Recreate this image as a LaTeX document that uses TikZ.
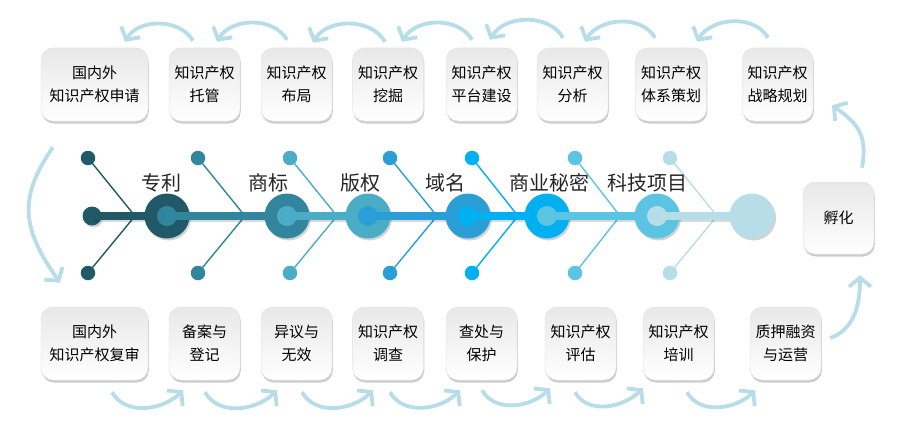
\documentclass[tikz,border=0pt]{standalone}
\usepackage{fontspec}
\setmainfont{Noto Sans CJK SC}
\usetikzlibrary{arrows.meta,shadows,calc}
\definecolor{cA}{HTML}{215968}
\definecolor{cB}{HTML}{31859C}
\definecolor{cC}{HTML}{4BACC6}
\definecolor{cD}{HTML}{2A9ED6}
\definecolor{cE}{HTML}{00B0F0}
\definecolor{cF}{HTML}{5BC4E2}
\definecolor{cG}{HTML}{B7DDE8}
\definecolor{arrc}{HTML}{B7DDE8}
\begin{document}
\begin{tikzpicture}[x=1pt,y=1pt,
  box/.style={rounded corners=12pt, top color=black!9, bottom color=white, draw=black!10, line width=0.5pt,
    drop shadow={shadow xshift=0.8pt, shadow yshift=-2.5pt, opacity=0.4},
    minimum height=73pt, minimum width=71pt, align=center, inner sep=2pt,
    font=\fontsize{15pt}{23pt}\selectfont},
  arr/.style={draw=arrc, line width=3.8pt, -{Straight Barb[length=9pt,width=22pt]}},
  bigc/.style={circle, minimum size=45pt, inner sep=0pt,
    drop shadow={shadow xshift=1.5pt, shadow yshift=-2pt, opacity=0.35}},
  innc/.style={circle, minimum size=20pt, inner sep=0pt},
  dotc/.style={circle, minimum size=14.5pt, inner sep=0pt},
  diag/.style={line width=1.4pt},
  mainl/.style={line width=8pt},
  lbl/.style={font=\fontsize{20pt}{24pt}\selectfont, text=black!85, inner sep=0pt}
]
\useasboundingbox (0,0) rectangle (900,-428);

% top row
\node[box, minimum width=107pt] (t1) at (94.5,-84.5) {国内外\\知识产权申请};
\node[box] (t2) at (204.5,-84.5) {知识产权\\托管};
\node[box] (t3) at (296.5,-84.5) {知识产权\\布局};
\node[box] (t4) at (388,-84.5) {知识产权\\挖掘};
\node[box] (t5) at (481.5,-84.5) {知识产权\\平台建设};
\node[box] (t6) at (572.5,-84.5) {知识产权\\分析};
\node[box] (t7) at (671,-84.5) {知识产权\\体系策划};
\node[box] (t8) at (777.5,-84.5) {知识产权\\战略规划};

% bottom row
\node[box, minimum width=107pt] (b1) at (94.5,-343.5) {国内外\\知识产权复审};
\node[box] (b2) at (204.5,-343.5) {备案与\\登记};
\node[box] (b3) at (296.5,-343.5) {异议与\\无效};
\node[box] (b4) at (388,-343.5) {知识产权\\调查};
\node[box] (b5) at (481.5,-343.5) {查处与\\保护};
\node[box] (b6) at (580.5,-343.5) {知识产权\\评估};
\node[box] (b7) at (678.5,-343.5) {知识产权\\培训};
\node[box] (b8) at (785.5,-343.5) {质押融资\\与运营};

% incubation
\node[box, minimum height=72pt] (h) at (838.5,-218) {孵化};

% top arrows (right to left)
\draw[arr] ([shift={(-11.5,7)}]t2.north) to[out=120,in=60] ([shift={(30.5,6)}]t1.north);
\draw[arr] ([shift={(-9.5,8)}]t3.north) to[out=120,in=60] ([shift={(12.5,6)}]t2.north);
\draw[arr] ([shift={(-3,6)}]t4.north) to[out=120,in=60] ([shift={(16.5,5)}]t3.north);
\draw[arr] ([shift={(-9.5,8)}]t5.north) to[out=120,in=60] ([shift={(14,6)}]t4.north);
\draw[arr] ([shift={(-9.5,10)}]t6.north) to[out=120,in=60] ([shift={(8.5,8)}]t5.north);
\draw[arr] ([shift={(-16,10)}]t7.north) to[out=120,in=60] ([shift={(12.5,6)}]t6.north);
\draw[arr] ([shift={(-9.5,10)}]t8.north) to[out=120,in=60] ([shift={(26,6)}]t7.north);

% left arrow
\draw[arr] ([shift={(-41.5,-26)}]t1.south) to[out=-125,in=125,looseness=1.2] ([shift={(-34.5,24)}]b1.north);

% bottom arrows (left to right)
\draw[arr] ([shift={(17.5,-12)}]b1.south) to[out=-60,in=-135] ([shift={(-21.5,-10)}]b2.south);
\draw[arr] ([shift={(0.5,-12)}]b2.south) to[out=-60,in=-135] ([shift={(-19.5,-10)}]b3.south);
\draw[arr] ([shift={(5.5,-12)}]b3.south) to[out=-60,in=-135] ([shift={(-15,-10)}]b4.south);
\draw[arr] ([shift={(2,-12)}]b4.south) to[out=-60,in=-135] ([shift={(-21.5,-10)}]b5.south);
\draw[arr] ([shift={(0.5,-10)}]b5.south) to[out=-60,in=-135] ([shift={(-30.5,-8)}]b6.south);
\draw[arr] ([shift={(-5.5,-12)}]b6.south) to[out=-60,in=-135] ([shift={(-35.5,-8)}]b7.south);
\draw[arr] ([shift={(8.5,-12)}]b7.south) to[out=-60,in=-135] ([shift={(-30.5,-10)}]b8.south);

% right arrows
\draw[arr] ([shift={(9,5.5)}]b8.east) to[out=20,in=-90] ([shift={(21.5,-21)}]h.south);
\draw[arr] ([shift={(23.5,14)}]h.north) to[out=80,in=-35,looseness=1.2] ([shift={(54.5,16)}]t8.south);

% fishbone diagonals
\foreach \xd/\xm/\c [count=\i] in {88/135/cA, 198/245/cB, 290/337/cC, 390/437/cD, 472/518/cE, 575/620/cF, 670/717/cG} {
  \coordinate (m\i) at (\xm,-216);
  \node[dotc, fill=\c] (dt\i) at (\xd,-158) {};
  \node[dotc, fill=\c] (db\i) at (\xd,-273) {};
  \draw[diag, draw=\c] (dt\i.center) -- (m\i) -- (db\i.center);
}

% main spine
\coordinate (p1) at (167,-216);
\coordinate (p2) at (287,-216);
\coordinate (p3) at (368,-216);
\coordinate (p4) at (468,-216);
\coordinate (p5) at (547,-216);
\coordinate (p6) at (657,-216);
\coordinate (p7) at (752,-216);

\node[circle, minimum size=19pt, inner sep=0pt, fill=cA,
  drop shadow={shadow xshift=1.5pt, shadow yshift=-2pt, opacity=0.35}] (e0) at (92,-216) {};
\draw[mainl, draw=black, opacity=0.15] ([shift={(1.5,-2)}]e0.center) -- ([shift={(1.5,-2)}]p7);
\draw[mainl, draw=cA] (e0.center) -- (p1);
\node[bigc, fill=cA] (c1) at (p1) {};
\draw[mainl, draw=cB] (c1.center) -- (p2);
\node[innc, fill=cB] (i1) at (c1) {};
\node[bigc, fill=cB] (c2) at (p2) {};
\draw[mainl, draw=cC] (c2.center) -- (p3);
\node[innc, fill=cC] (i2) at (c2) {};
\node[bigc, fill=cC] (c3) at (p3) {};
\draw[mainl, draw=cD] (c3.center) -- (p4);
\node[innc, fill=cD] (i3) at (c3) {};
\node[bigc, fill=cD] (c4) at (p4) {};
\draw[mainl, draw=cE] (c4.center) -- (p5);
\node[innc, fill=cE] (i4) at (c4) {};
\node[bigc, fill=cE] (c5) at (p5) {};
\draw[mainl, draw=cF] (c5.center) -- (p6);
\node[innc, fill=cF] (i5) at (c5) {};
\node[bigc, fill=cF] (c6) at (p6) {};
\draw[mainl, draw=cG] (c6.center) -- (p7);
\node[innc, fill=cG] (i6) at (c6) {};
\node[bigc, fill=cG] (c7) at (p7) {};

% labels
\node[lbl] (l1) at (161,-183) {专利};
\node[lbl] (l2) at (268,-183) {商标};
\node[lbl] (l3) at (360,-183) {版权};
\node[lbl] (l4) at (445,-183) {域名};
\node[lbl] (l5) at (549,-183) {商业秘密};
\node[lbl] (l6) at (647,-183) {科技项目};
\end{tikzpicture}
\end{document}
